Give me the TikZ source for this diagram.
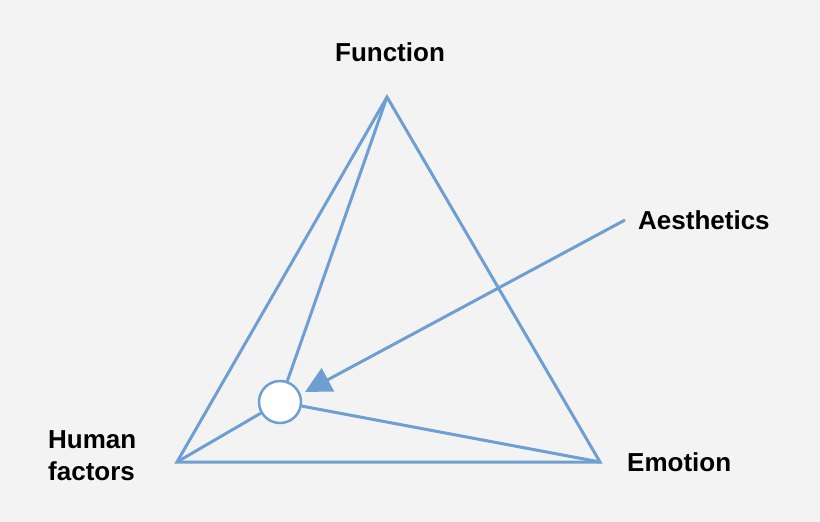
\documentclass[tikz,border=0pt]{standalone}
\usepackage{fontspec}
\setmainfont{Liberation Sans}
\usetikzlibrary{arrows.meta}
\definecolor{ln}{HTML}{6E9FD2}
\definecolor{bg}{HTML}{F3F3F3}
\begin{document}
\begin{tikzpicture}[x=1pt,y=-1pt,
  edge/.style={draw=ln,line width=3pt},
  lab/.style={font=\bfseries\fontsize{26}{32}\selectfont,inner sep=0pt}]
\fill[bg] (0,0) rectangle (820,522);
\useasboundingbox (0,0) rectangle (820,522);
\coordinate (A) at (387,97);
\coordinate (L) at (177,462);
\coordinate (R) at (600,462);
\coordinate (S) at (625,220);
\node[circle,draw=ln,line width=2.5pt,fill=white,minimum size=42pt,inner sep=0pt] (C) at (280,402) {};
\draw[edge,line join=miter] (A) -- (L) -- (R) -- cycle;
\draw[edge] (A) -- (C);
\draw[edge] (L) -- (C);
\draw[edge] (C) -- (R);
\draw[edge,-{Triangle[length=26pt,width=26pt]}] (S) -- (305,392);
\node[lab] (f) at (390,52) {Function};
\node[lab,anchor=west] (a) at (638,220) {Aesthetics};
\node[lab,anchor=west] (e) at (627,462) {Emotion};
\node[lab,anchor=west,align=left] (h) at (48,456) {Human\\factors};
\end{tikzpicture}
\end{document}
